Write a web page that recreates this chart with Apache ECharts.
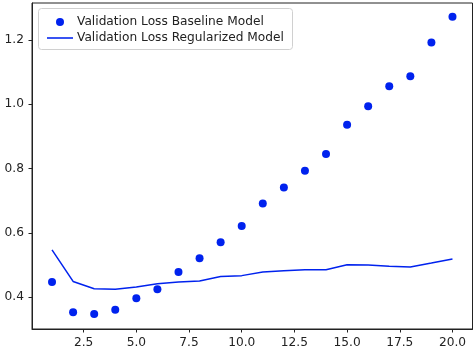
<!DOCTYPE html>
<html>
<head>
<meta charset="utf-8">
<script src="https://cdn.jsdelivr.net/npm/echarts@6/dist/echarts.min.js"></script>
<style>
  html, body { margin: 0; padding: 0; background: #fff; }
  #chart { width: 474px; height: 351px; }
</style>
</head>
<body>
<div id="chart"></div>
<script>
const epochs = [1, 2, 3, 4, 5, 6, 7, 8, 9, 10, 11, 12, 13, 14, 15, 16, 17, 18, 19, 20]
const baselineLoss = [0.447, 0.353, 0.348, 0.361, 0.397, 0.425, 0.478, 0.521, 0.571, 0.621,
  0.691, 0.741, 0.793, 0.845, 0.936, 0.994, 1.056, 1.087, 1.192, 1.272]
const regularizedLoss = [0.547, 0.449, 0.426, 0.425, 0.432, 0.442, 0.447, 0.450, 0.464, 0.467,
  0.478, 0.482, 0.485, 0.485, 0.501, 0.500, 0.496, 0.494, 0.506, 0.519]
const xTicks = [2.5, 5.0, 7.5, 10.0, 12.5, 15.0, 17.5, 20.0]
const yTicks = [0.4, 0.6, 0.8, 1.0, 1.2]

const chart = echarts.init(document.getElementById('chart'))
const blue = '#0022ee'
const font = 'DejaVu Sans'

const option = {
  animation: false,
  grid: {
    left: 32,
    right: 1.5,
    top: 3,
    bottom: 22,
    containLabel: false,
    show: true,
    borderColor: '#222',
    borderWidth: 1
  },
  legend: {
    orient: 'vertical',
    left: 42,
    top: 11,
    itemWidth: 26,
    itemHeight: 8,
    itemGap: 4,
    symbolKeepAspect: true,
    textStyle: { fontFamily: font, fontSize: 12.2, color: '#222', padding: [0, 0, 0, -1] },
    data: [
      { name: 'Validation Loss Baseline Model', icon: 'circle' },
      // thin bar, kept to its aspect so it reads as a line
      { name: 'Validation Loss Regularized Model', icon: 'path://M0,0 L100,0 L100,6 L0,6 Z' }
    ]
  },
  graphic: [{
    type: 'rect',
    left: 38,
    top: 8,
    shape: { width: 254, height: 41, r: 3 },
    style: { fill: 'rgba(255,255,255,0.8)', stroke: '#d0d0d0', lineWidth: 1 },
    z: -1
  }],
  xAxis: {
    type: 'value',
    min: 0.05,
    max: 20.95,
    splitLine: { show: false },
    axisLine: { lineStyle: { color: '#222' } },
    axisTick: { customValues: xTicks, length: 3.5, lineStyle: { color: '#222' } },
    axisLabel: {
      customValues: xTicks,
      margin: 8,
      fontFamily: font,
      fontSize: 12.2,
      color: '#222',
      formatter: (v) => v.toFixed(1)
    }
  },
  yAxis: {
    type: 'value',
    min: 0.301,
    max: 1.315,
    splitLine: { show: false },
    axisLine: { show: true, lineStyle: { color: '#222' } },
    axisTick: { show: true, customValues: yTicks, length: 3.5, lineStyle: { color: '#222' } },
    axisLabel: {
      customValues: yTicks,
      margin: 8,
      fontFamily: font,
      fontSize: 12.2,
      color: '#222',
      formatter: (v) => v.toFixed(1)
    }
  },
  series: [
    {
      name: 'Validation Loss Baseline Model',
      type: 'scatter',
      symbol: 'circle',
      symbolSize: 8,
      itemStyle: { color: blue, opacity: 1 },
      data: epochs.map((e, i) => [e, baselineLoss[i]])
    },
    {
      name: 'Validation Loss Regularized Model',
      type: 'line',
      symbol: 'none',
      lineStyle: { color: blue, width: 1.5 },
      itemStyle: { color: blue },
      data: epochs.map((e, i) => [e, regularizedLoss[i]])
    }
  ]
}
chart.setOption(option)
</script>
</body>
</html>
